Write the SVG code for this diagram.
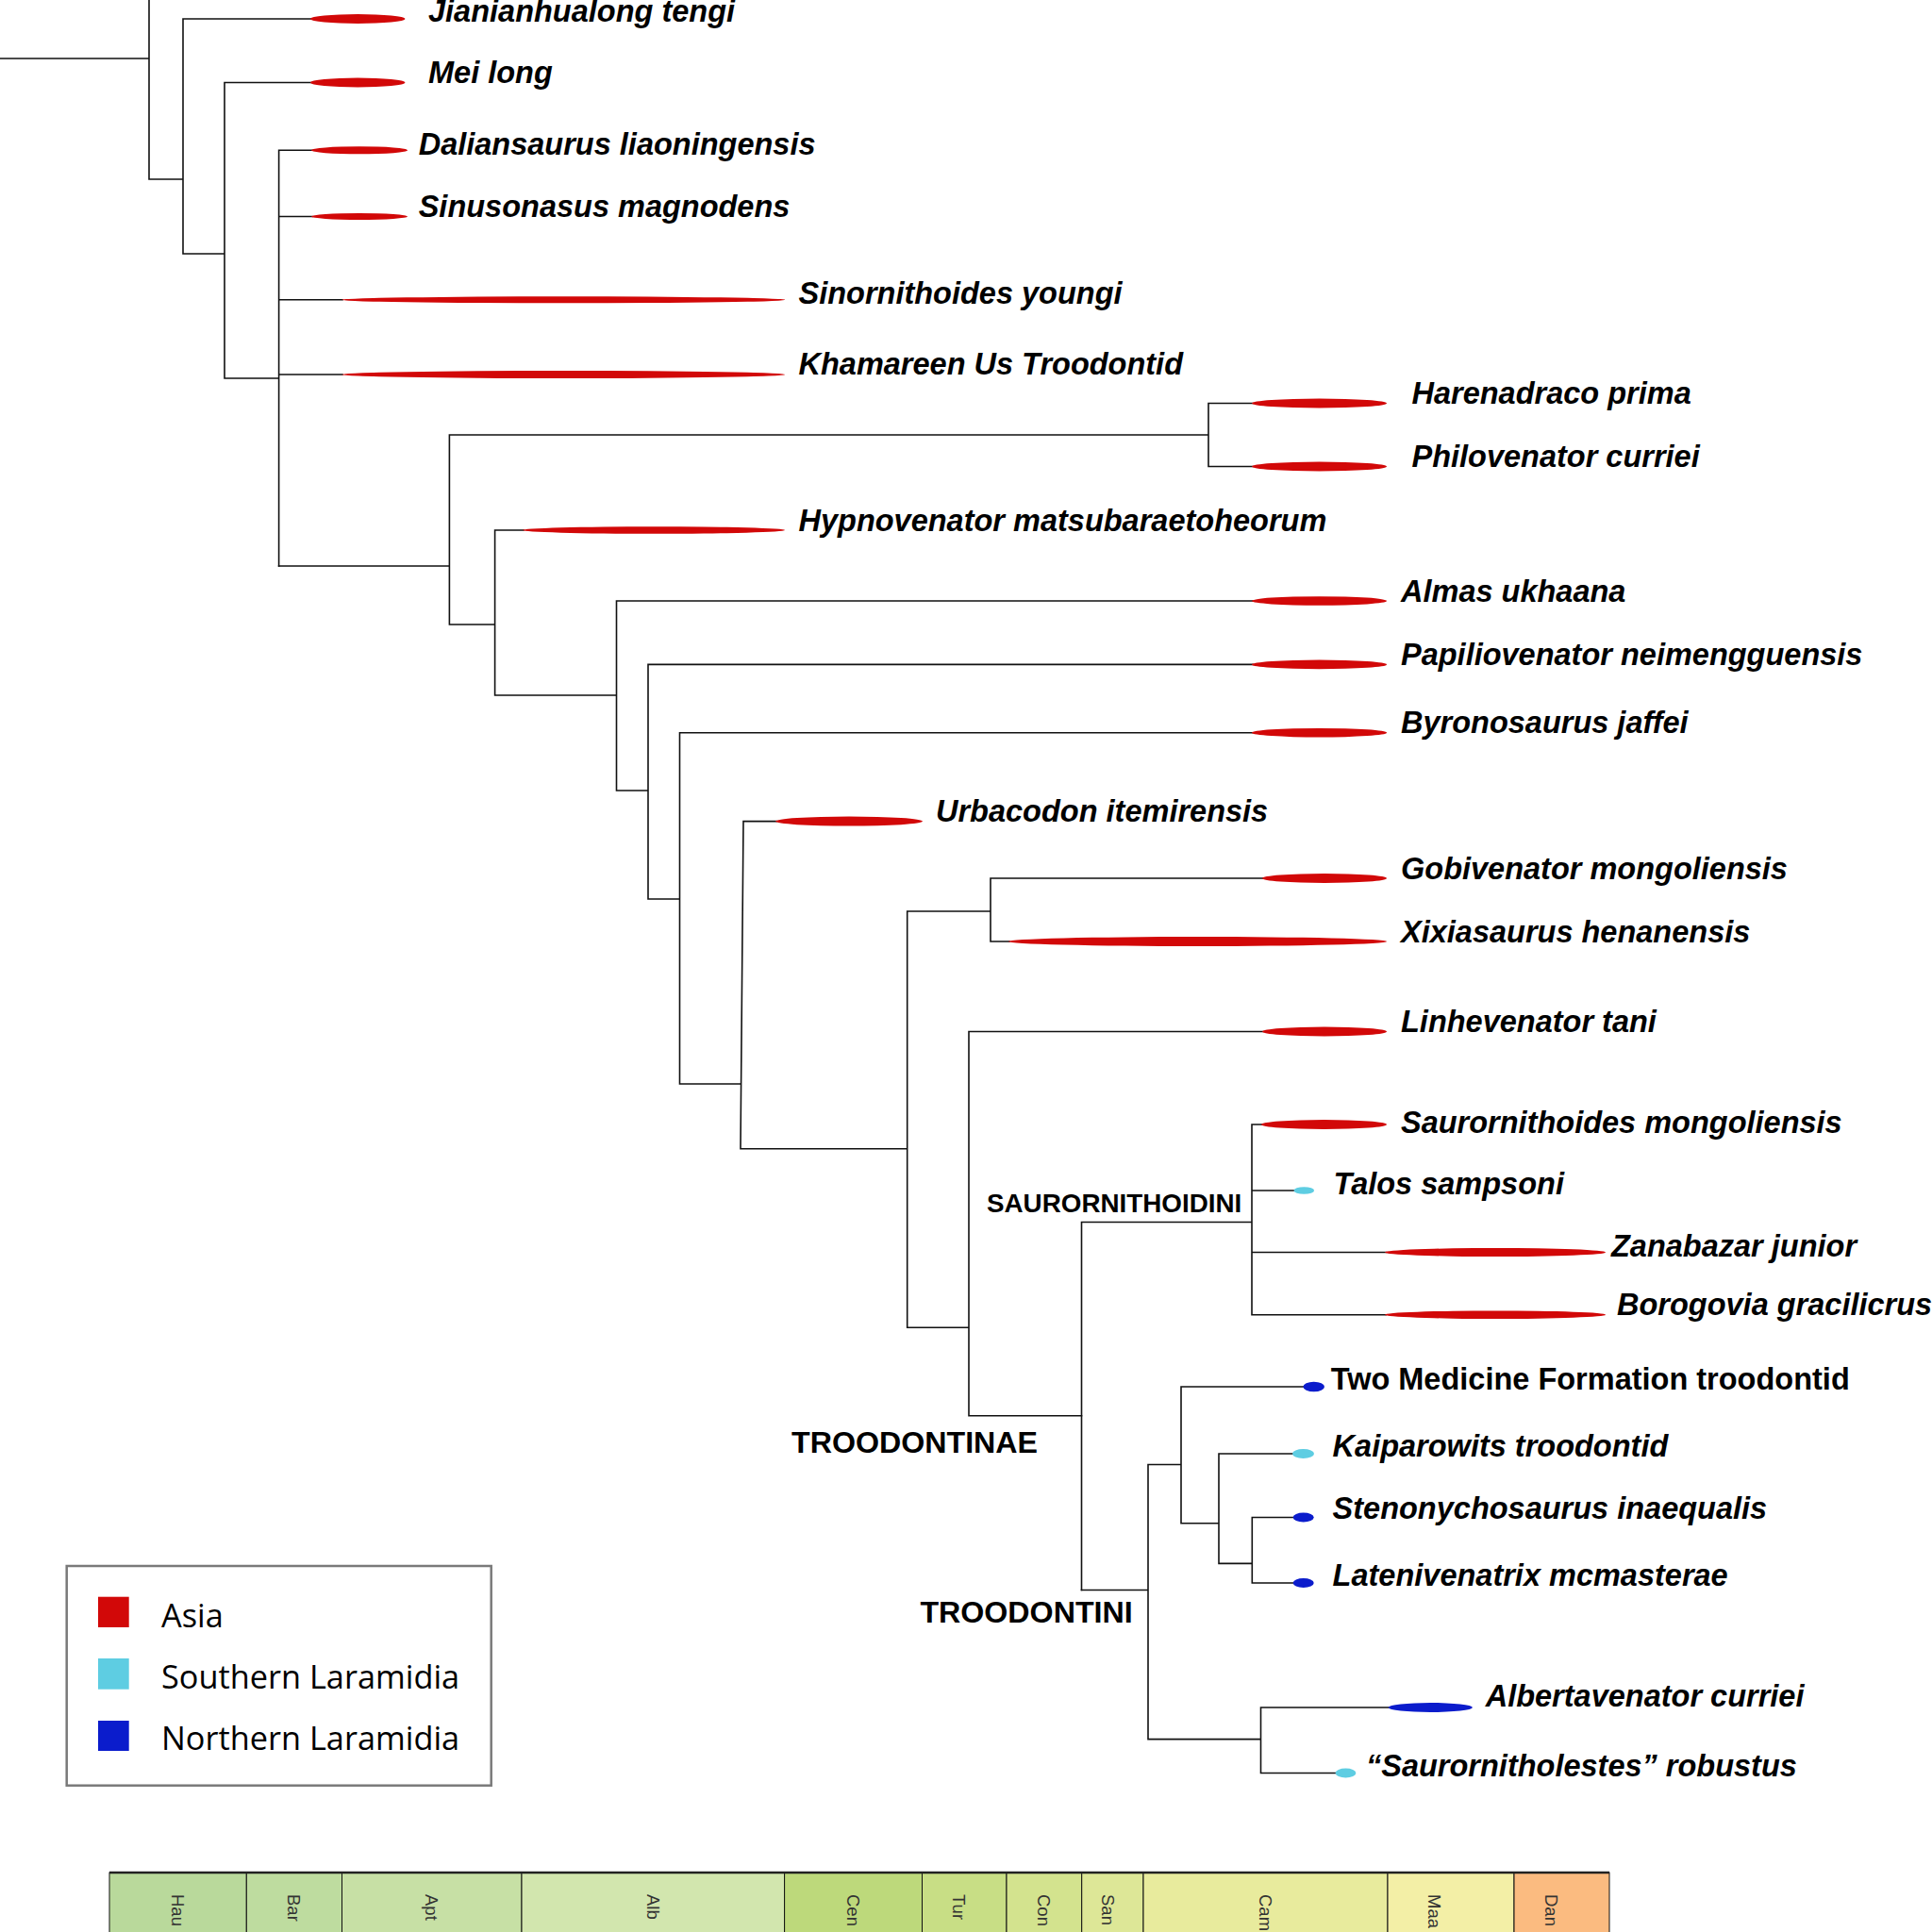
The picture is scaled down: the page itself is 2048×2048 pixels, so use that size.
<svg xmlns="http://www.w3.org/2000/svg" width="2048" height="2048" viewBox="0 0 2048 2048">
<style>
.br{fill:none;stroke:#111;stroke-width:1.6;stroke-linecap:square}
.sp{font-family:"Liberation Sans",Arial,Helvetica,sans-serif;font-weight:bold;font-style:italic;font-size:32.5px;fill:#000}
.spu{font-family:"Liberation Sans",Arial,Helvetica,sans-serif;font-weight:bold;font-size:32.5px;fill:#000}
.cl{font-family:"Liberation Sans",Arial,Helvetica,sans-serif;font-weight:bold;font-size:32.2px;fill:#000}
.cls{font-family:"Liberation Sans",Arial,Helvetica,sans-serif;font-weight:bold;font-size:27.8px;fill:#000}
.asia{fill:#d20808}
.south{fill:#5ecde2}
.north{fill:#0b1ccc}
.lg{font-family:"Open Sans","Noto Sans",sans-serif;font-size:34.3px;fill:#000}
.ts{stroke:#111;stroke-width:1}
.tt{font-family:"Liberation Sans",Arial,sans-serif;font-size:18.5px;fill:#333}
</style>
<rect x="0" y="0" width="2048" height="2048" fill="#fff"/>
<g id="connectors">
<path class="br" d="M0,62 H158 M158,0 V190 M158,190 H194 M194,20 V269 M194,20 H330 M194,269 H238 M238,87.5 V401 M238,87.5 H330 M238,401 H295.6 M295.6,159.3 V600 M295.6,159.3 H331 M295.6,229.5 H331 M295.6,317.8 H363 M295.6,397 H363"/>
<path class="br" d="M295.6,600 H476.4 M476.4,461 V662 M476.4,461 H1281 M1281,427.5 V494.5 M1281,427.5 H1328 M1281,494.5 H1328 M476.4,662 H524.6 M524.6,562 V737 M524.6,562 H555 M524.6,737 H653.5 M653.5,637 V838 M653.5,637 H1328 M653.5,838 H687 M687,704.4 V953 M687,704.4 H1328 M687,953 H720.5 M720.5,776.7 V1149 M720.5,776.7 H1328 M720.5,1149 H785"/>
<path class="br" d="M788,870.6 L785,1217.7 M788,870.6 H823 M785,1217.7 H961.7 M961.7,966 V1407.3 M961.7,966 H1050 M1050,931 V998 M1050,931 H1339 M1050,998 H1070 M961.7,1407.3 H1027 M1027,1093.5 V1500.7 M1027,1093.5 H1339 M1027,1500.7 H1146.5"/>
<path class="br" d="M1146.5,1295.5 V1685.5 M1146.5,1295.5 H1327 M1327,1192 V1393.7 M1327,1192 H1338 M1327,1262 H1372 M1327,1327.5 H1469 M1327,1393.7 H1469"/>
<path class="br" d="M1146.5,1685.5 H1217 M1217,1552.5 V1843.6 M1217,1552.5 H1252 M1252,1470 V1614.7 M1252,1470 H1382 M1252,1614.7 H1292 M1292,1541 V1657.4 M1292,1541 H1371 M1292,1657.4 H1327.3 M1327.3,1608.5 V1678 M1327.3,1608.5 H1371 M1327.3,1678 H1371 M1217,1843.6 H1336.5 M1336.5,1810 V1879.5 M1336.5,1810 H1472 M1336.5,1879.5 H1416"/>
</g>
<g id="jianianhualong"><ellipse class="asia" cx="379.2" cy="20" rx="50.2" ry="5"/><text class="sp" x="454" y="23">Jianianhualong tengi</text></g>
<g id="mei"><ellipse class="asia" cx="379.2" cy="87.5" rx="50.2" ry="5"/><text class="sp" x="454" y="88">Mei long</text></g>
<g id="daliansaurus"><ellipse class="asia" cx="381" cy="159.3" rx="51" ry="4"/><text class="sp" x="443.7" y="164">Daliansaurus liaoningensis</text></g>
<g id="sinusonasus"><ellipse class="asia" cx="381" cy="229.5" rx="51" ry="3.5"/><text class="sp" x="443.7" y="230">Sinusonasus magnodens</text></g>
<g id="sinornithoides"><ellipse class="asia" cx="597.3" cy="317.8" rx="234.8" ry="3.5"/><text class="sp" x="846.5" y="322">Sinornithoides youngi</text></g>
<g id="khamareen"><ellipse class="asia" cx="597.3" cy="397" rx="234.8" ry="4"/><text class="sp" x="846.5" y="397">Khamareen Us Troodontid</text></g>
<g id="harenadraco"><ellipse class="asia" cx="1398.5" cy="427.5" rx="71.5" ry="5"/><text class="sp" x="1496.5" y="428">Harenadraco prima</text></g>
<g id="philovenator"><ellipse class="asia" cx="1398.5" cy="494.5" rx="71.5" ry="5"/><text class="sp" x="1496.5" y="495">Philovenator curriei</text></g>
<g id="hypnovenator"><ellipse class="asia" cx="693" cy="562" rx="139" ry="3.8"/><text class="sp" x="846.5" y="563">Hypnovenator matsubaraetoheorum</text></g>
<g id="almas"><ellipse class="asia" cx="1398.5" cy="637" rx="71.5" ry="4.8"/><text class="sp" x="1485" y="638">Almas ukhaana</text></g>
<g id="papiliovenator"><ellipse class="asia" cx="1398.5" cy="704.4" rx="71.5" ry="4.8"/><text class="sp" x="1485" y="704.5">Papiliovenator neimengguensis</text></g>
<g id="byronosaurus"><ellipse class="asia" cx="1398.5" cy="776.7" rx="71.5" ry="4.8"/><text class="sp" x="1485" y="777">Byronosaurus jaffei</text></g>
<g id="urbacodon"><ellipse class="asia" cx="900" cy="870.6" rx="78" ry="5"/><text class="sp" x="992" y="871">Urbacodon itemirensis</text></g>
<g id="gobivenator"><ellipse class="asia" cx="1404" cy="931" rx="66" ry="5"/><text class="sp" x="1485" y="932">Gobivenator mongoliensis</text></g>
<g id="xixiasaurus"><ellipse class="asia" cx="1269.5" cy="998" rx="200.5" ry="5"/><text class="sp" x="1485" y="999">Xixiasaurus henanensis</text></g>
<g id="linhevenator"><ellipse class="asia" cx="1404" cy="1093.5" rx="66" ry="5"/><text class="sp" x="1485" y="1094">Linhevenator tani</text></g>
<g id="saurornithoides"><ellipse class="asia" cx="1403.5" cy="1192" rx="66.5" ry="5"/><text class="sp" x="1485" y="1200.5">Saurornithoides mongoliensis</text></g>
<g id="talos"><ellipse class="south" cx="1382.3" cy="1262" rx="10.8" ry="3.8"/><text class="sp" x="1413.5" y="1266">Talos sampsoni</text></g>
<g id="zanabazar"><ellipse class="asia" cx="1585" cy="1327.5" rx="117" ry="4.5"/><text class="sp" x="1708" y="1332">Zanabazar junior</text></g>
<g id="borogovia"><ellipse class="asia" cx="1585" cy="1393.7" rx="117" ry="4.3"/><text class="sp" x="1714" y="1394">Borogovia gracilicrus</text></g>
<g id="two-medicine"><ellipse class="north" cx="1392.7" cy="1470" rx="11.3" ry="5.2"/><text class="spu" x="1410.7" y="1473">Two Medicine Formation troodontid</text></g>
<g id="kaiparowits"><ellipse class="south" cx="1381.5" cy="1541" rx="11.5" ry="5"/><text class="sp" x="1412.6" y="1544">Kaiparowits troodontid</text></g>
<g id="stenonychosaurus"><ellipse class="north" cx="1381.7" cy="1608.5" rx="11" ry="5"/><text class="sp" x="1412.6" y="1610">Stenonychosaurus inaequalis</text></g>
<g id="latenivenatrix"><ellipse class="north" cx="1381.7" cy="1678" rx="11" ry="5"/><text class="sp" x="1412.6" y="1681">Latenivenatrix mcmasterae</text></g>
<g id="albertavenator"><ellipse class="north" cx="1516.3" cy="1810" rx="44.6" ry="5"/><text class="sp" x="1574.7" y="1809">Albertavenator curriei</text></g>
<g id="saurornitholestes"><ellipse class="south" cx="1426.5" cy="1879.5" rx="10.8" ry="5"/><text class="sp" x="1448" y="1882.5">“Saurornitholestes” robustus</text></g>
<g id="clade-saurornithoidini"><text class="cls" x="1046" y="1285">SAURORNITHOIDINI</text></g>
<g id="clade-troodontinae"><text class="cl" x="839" y="1539.5">TROODONTINAE</text></g>
<g id="clade-troodontini"><text class="cl" x="975.4" y="1720">TROODONTINI</text></g>
<g id="legend">
<rect x="70.7" y="1660" width="450" height="232.7" fill="#fff" stroke="#7a7a7a" stroke-width="2.5"/>
<rect class="asia" x="104" y="1692.7" width="32.7" height="32.3"/>
<rect class="south" x="104" y="1758" width="32.7" height="32.7"/>
<rect class="north" x="104" y="1824" width="32.7" height="32"/>
<text class="lg" x="171" y="1724.7">Asia</text>
<text class="lg" x="171" y="1789.7">Southern Laramidia</text>
<text class="lg" x="171" y="1855.3">Northern Laramidia</text>
</g>
<g id="timescale">
<rect class="ts" x="116" y="1985" width="145.3" height="70" fill="#b9d99b"/>
<rect class="ts" x="261.3" y="1985" width="101.2" height="70" fill="#bedc9f"/>
<rect class="ts" x="362.5" y="1985" width="190.5" height="70" fill="#c7e0a5"/>
<rect class="ts" x="553" y="1985" width="278.6" height="70" fill="#d2e6ae"/>
<rect class="ts" x="831.6" y="1985" width="145.9" height="70" fill="#bdd97b"/>
<rect class="ts" x="977.5" y="1985" width="89.5" height="70" fill="#c8de85"/>
<rect class="ts" x="1067" y="1985" width="79.7" height="70" fill="#d3e38e"/>
<rect class="ts" x="1146.7" y="1985" width="65.3" height="70" fill="#dde797"/>
<rect class="ts" x="1212" y="1985" width="259" height="70" fill="#e8eb9d"/>
<rect class="ts" x="1471" y="1985" width="134" height="70" fill="#f3efa6"/>
<rect class="ts" x="1605" y="1985" width="101" height="70" fill="#fbbb80"/>
<path d="M116,1985 H1706" stroke="#222" stroke-width="2.5"/>
<text class="tt" transform="translate(181.5,2008) rotate(90)">Hau</text>
<text class="tt" transform="translate(304.5,2008) rotate(90)">Bar</text>
<text class="tt" transform="translate(450.5,2008) rotate(90)">Apt</text>
<text class="tt" transform="translate(685.5,2008) rotate(90)">Alb</text>
<text class="tt" transform="translate(898,2008) rotate(90)">Cen</text>
<text class="tt" transform="translate(1009.5,2008) rotate(90)">Tur</text>
<text class="tt" transform="translate(1099.5,2008) rotate(90)">Con</text>
<text class="tt" transform="translate(1168,2008) rotate(90)">San</text>
<text class="tt" transform="translate(1335,2008) rotate(90)">Cam</text>
<text class="tt" transform="translate(1513.5,2008) rotate(90)">Maa</text>
<text class="tt" transform="translate(1637.5,2008) rotate(90)">Dan</text>
</g>
</svg>
